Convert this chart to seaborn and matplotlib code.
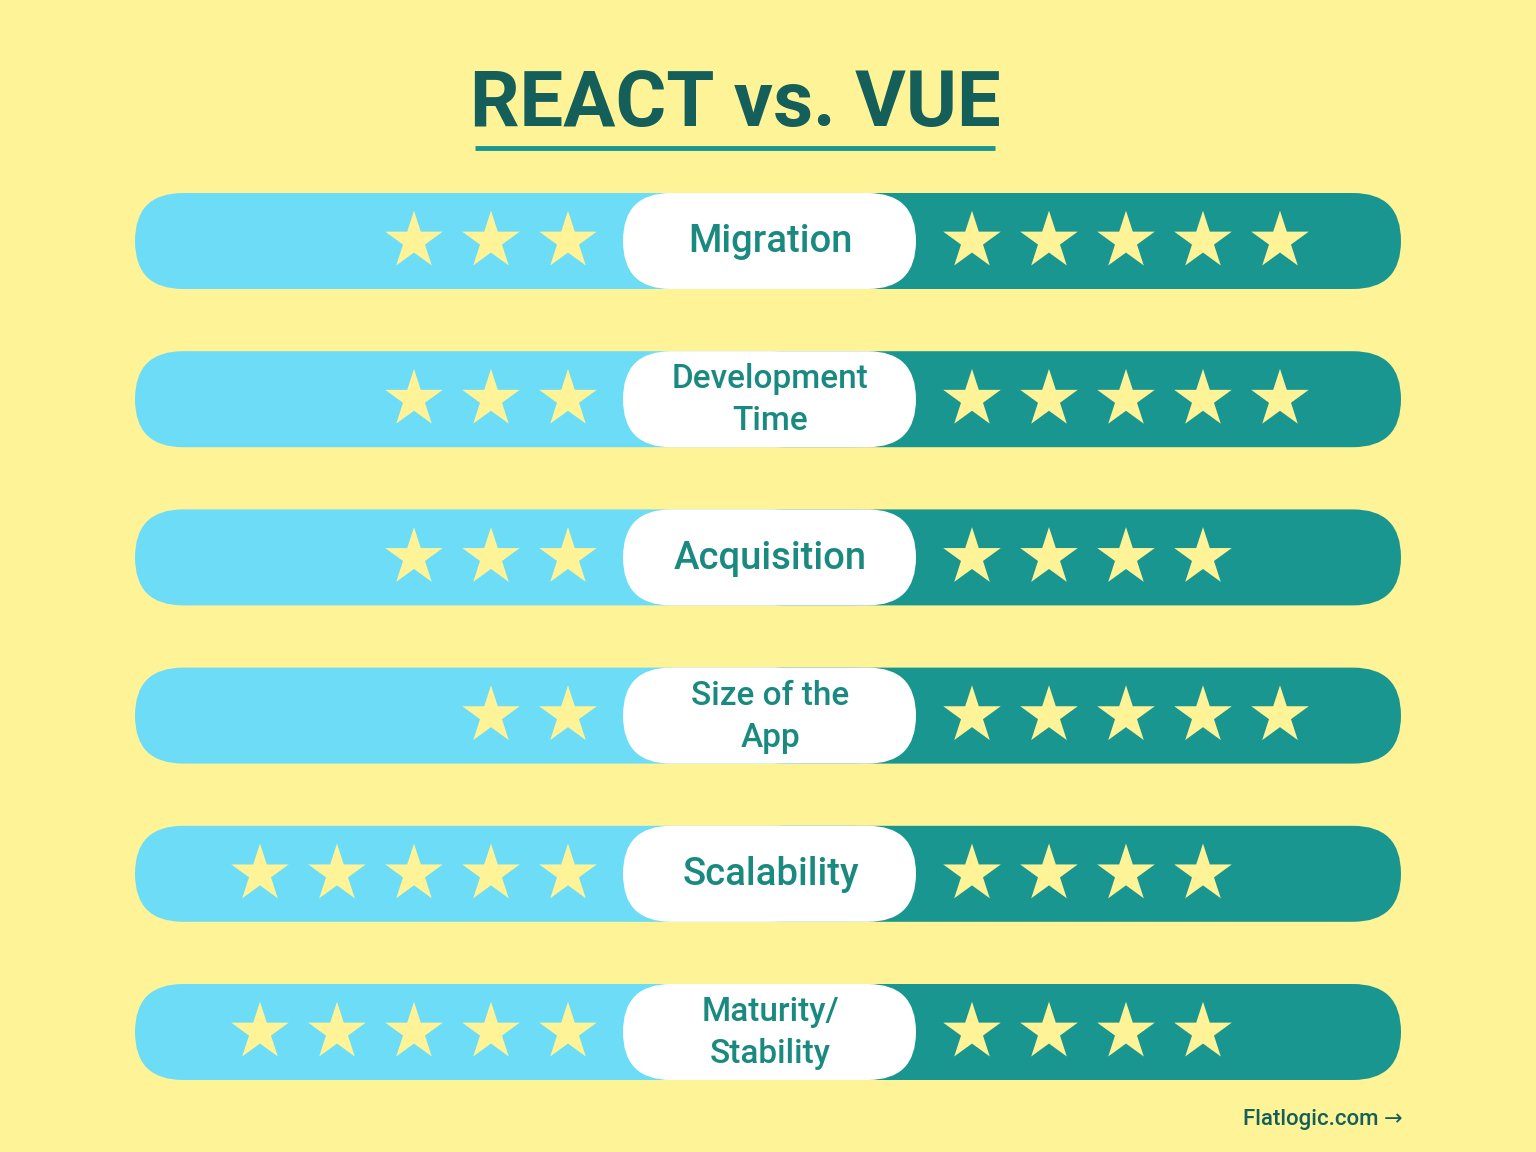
import numpy as np
import pandas as pd
import seaborn as sns
import matplotlib.pyplot as plt
from matplotlib.patches import FancyBboxPatch

sns.set_theme(style='white')
plt.rcParams['font.family'] = ['Roboto', 'DejaVu Sans']

categories = ['Migration', 'Development\nTime', 'Acquisition', 'Size of the\nApp', 'Scalability', 'Maturity/\nStability']
react_stars = [3, 3, 3, 2, 5, 5]
vue_stars = [5, 5, 4, 5, 4, 4]

BG = '#FEF396'
BLUE = '#6DDCF7'
TEAL = '#1A9690'
DARK = '#145F5A'
LABEL = '#1A8A80'

# layout in pixel coordinates
row_y = [241 + i * 158.2 for i in range(len(categories))]
bar_l, bar_r, bar_h = 135, 1401, 96
pill_l, pill_r = 623, 916
step = 77

rows = []
for y, r, v in zip(row_y, react_stars, vue_stars):
    for i in range(r):
        rows.append({'x': 568 - i * step, 'y': y, 'side': 'React'})
    for i in range(v):
        rows.append({'x': 972 + i * step, 'y': y, 'side': 'Vue'})
stars = pd.DataFrame(rows)

fig = plt.figure(figsize=(15.36, 11.52), dpi=100, facecolor=BG)
ax = fig.add_axes([0, 0, 1, 1])
ax.set_facecolor(BG)

rad = bar_h / 2
for y, label in zip(row_y, categories):
    ax.add_patch(FancyBboxPatch((bar_l, y - rad), 900 - bar_l, bar_h,
                                boxstyle=f'round,pad=0,rounding_size={rad}', fc=BLUE, ec='none'))
    ax.add_patch(FancyBboxPatch((bar_l + 600, y - rad), bar_r - bar_l - 600, bar_h,
                                boxstyle=f'round,pad=0,rounding_size={rad}', fc=TEAL, ec='none'))
    ax.add_patch(FancyBboxPatch((pill_l, y - rad), pill_r - pill_l, bar_h,
                                boxstyle=f'round,pad=0,rounding_size={rad}', fc='white', ec='none', zorder=3))
    two = '\n' in label
    ax.text((pill_l + pill_r) / 2 + 1, y + 1, label, ha='center', va='center', fontsize=24 if two else 27.5,
            fontweight='medium', color=LABEL, zorder=4, linespacing=1.4)

sns.scatterplot(data=stars, x='x', y='y', marker='*', s=1900, color=BG, edgecolor='none',
                ax=ax, legend=False, zorder=5)
ax.set_xlim(0, 1536)
ax.set_ylim(1152, 0)
ax.set_aspect('equal')
ax.axis('off')

ax.text(735, 105, 'REACT vs. VUE', ha='center', va='center', fontsize=56, fontweight='bold', color=DARK)
ax.plot([475, 995], [148, 148], color=TEAL, lw=3.5, solid_capstyle='butt')
ax.text(1403, 1119, 'Flatlogic.com →', ha='right', va='center', fontsize=16, fontweight='medium', color=DARK)

fig.savefig('out.png', dpi=100, facecolor=BG)
